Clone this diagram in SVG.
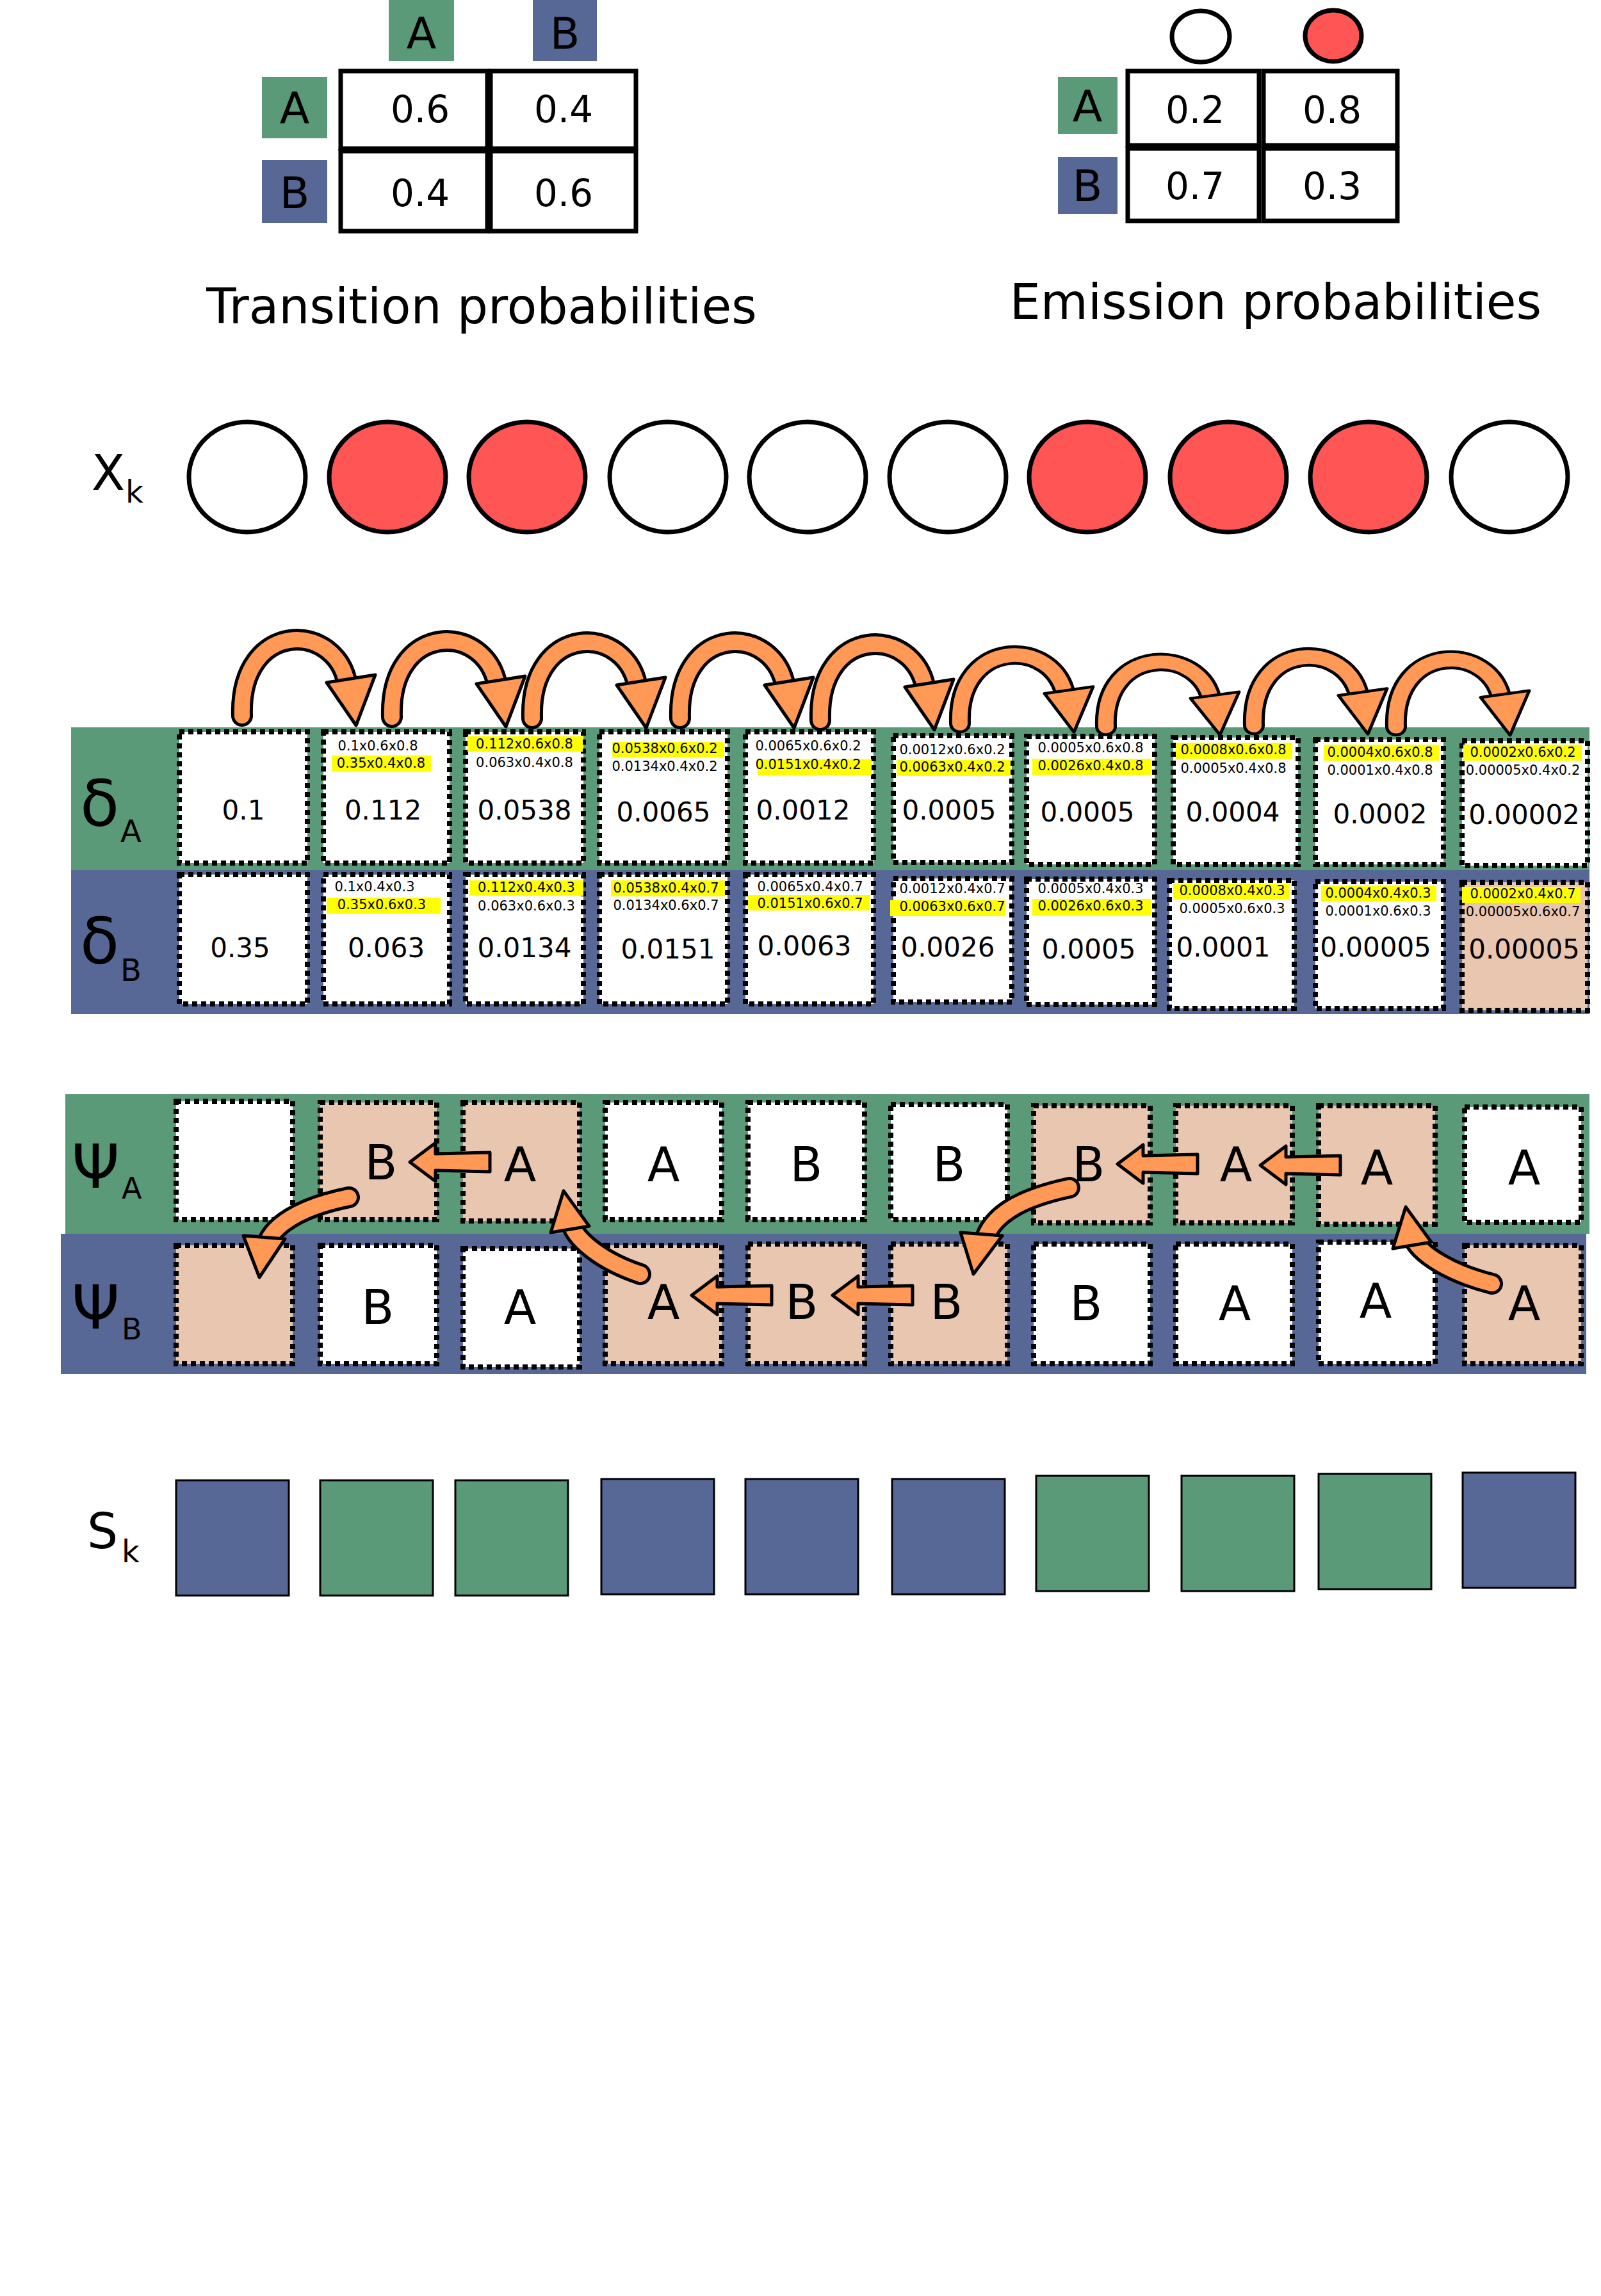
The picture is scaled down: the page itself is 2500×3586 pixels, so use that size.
<svg xmlns="http://www.w3.org/2000/svg" xmlns:xlink="http://www.w3.org/1999/xlink" width="2500" height="3586" viewBox="0 0 2500 3586">
<style>
text{font-family:"DejaVu Sans","Liberation Sans",sans-serif;fill:#000}
.g{fill:#5a9a78}.b{fill:#576796}
.cell{fill:#fff;stroke:#000;stroke-width:7}
.big{font-size:58px;text-anchor:middle}
.hd{font-size:68px;text-anchor:middle}
.ttl{font-size:76px;text-anchor:middle}
.dc{fill:#fff;stroke:#000;stroke-width:8;stroke-dasharray:8 6}
.tan{fill:#e9c6af}
.sm{font-size:21px;text-anchor:middle}
.val{font-size:42px;text-anchor:middle}
.hl{fill:#ffff00}
.ps{font-size:74px;text-anchor:middle}
.arrO{fill:none;stroke:#000;stroke-width:34;stroke-linecap:round}
.arrI{fill:none;stroke:#ff9955;stroke-width:24;stroke-linecap:round}
.head{fill:#ff9955;stroke:#000;stroke-width:5;stroke-linejoin:round}
.sq{stroke:#000;stroke-width:3}
</style>
<defs>
<g id="harc">
<path class="arrO" d="M0,0 C-5,-150 150,-150 165,-45"/>
<path class="arrI" d="M0,0 C-5,-150 150,-150 165,-45"/>
<path class="head" d="M132,-52 L208,-64 L178,15 Z"/>
</g>
<g id="larr">
<path class="head" d="M0,0 L40,-30 L40,-13 L125,-15 L125,15 L40,13 L40,30 Z"/>
</g>
</defs>

<g id="transition">
<rect class="g" x="607" y="0" width="102" height="95"/><text class="hd" x="658" y="76">A</text>
<rect class="b" x="832" y="0" width="100" height="95"/><text class="hd" x="882" y="76">B</text>
<rect class="g" x="409" y="120" width="102" height="96"/><text class="hd" x="460" y="193">A</text>
<rect class="b" x="409" y="250" width="102" height="98"/><text class="hd" x="460" y="325">B</text>
<rect class="cell" x="532" y="111" width="229" height="121"/><text class="big" x="656" y="191">0.6</text>
<rect class="cell" x="766" y="111" width="227" height="121"/><text class="big" x="880" y="191">0.4</text>
<rect class="cell" x="532" y="236" width="229" height="125"/><text class="big" x="656" y="322">0.4</text>
<rect class="cell" x="766" y="236" width="227" height="125"/><text class="big" x="880" y="322">0.6</text>
<text class="ttl" x="752" y="505">Transition probabilities</text>
</g>

<g id="emission">
<ellipse cx="1875" cy="57" rx="45" ry="40" fill="#fff" stroke="#000" stroke-width="7"/>
<ellipse cx="2082" cy="56" rx="44" ry="40" fill="#ff5555" stroke="#000" stroke-width="7"/>
<rect class="g" x="1652" y="120" width="93" height="89"/><text class="hd" x="1698" y="190">A</text>
<rect class="b" x="1652" y="245" width="93" height="89"/><text class="hd" x="1698" y="314">B</text>
<rect class="cell" x="1761" y="111" width="205" height="116"/><text class="big" x="1866" y="192">0.2</text>
<rect class="cell" x="1973" y="111" width="209" height="116"/><text class="big" x="2080" y="192">0.8</text>
<rect class="cell" x="1761" y="232" width="205" height="113"/><text class="big" x="1866" y="311">0.7</text>
<rect class="cell" x="1973" y="232" width="209" height="113"/><text class="big" x="2080" y="311">0.3</text>
<text class="ttl" x="1992" y="498">Emission probabilities</text>
</g>

<g id="observations">
<text x="143" y="765" font-size="76">X</text><text x="196" y="785" font-size="48">k</text>
<g stroke="#000" stroke-width="7">
<ellipse cx="386" cy="745" rx="91" ry="86" fill="#fff"/>
<ellipse cx="605" cy="745" rx="91" ry="86" fill="#ff5555"/>
<ellipse cx="823" cy="745" rx="91" ry="86" fill="#ff5555"/>
<ellipse cx="1043" cy="745" rx="91" ry="86" fill="#fff"/>
<ellipse cx="1261" cy="745" rx="91" ry="86" fill="#fff"/>
<ellipse cx="1480" cy="745" rx="91" ry="86" fill="#fff"/>
<ellipse cx="1698" cy="745" rx="91" ry="86" fill="#ff5555"/>
<ellipse cx="1918" cy="745" rx="91" ry="86" fill="#ff5555"/>
<ellipse cx="2137" cy="745" rx="91" ry="86" fill="#ff5555"/>
<ellipse cx="2357" cy="745" rx="91" ry="86" fill="#fff"/>
</g>
</g>

<g id="delta">
<rect class="g" x="111" y="1136" width="2371" height="223"/>
<rect class="b" x="111" y="1359" width="2371" height="225"/>
<text x="125" y="1290" font-size="100">δ</text><text x="188" y="1315" font-size="48">A</text>
<text x="125" y="1505" font-size="100">δ</text><text x="188" y="1532" font-size="48">B</text>

<rect class="dc" x="280" y="1143" width="200" height="205"/><text class="val" x="380" y="1280">0.1</text>
<rect class="dc" x="280" y="1366" width="200" height="202"/><text class="val" x="375" y="1495">0.35</text>

<rect class="dc" x="505" y="1143" width="197" height="205"/>
<rect class="hl" x="518" y="1180" width="155" height="24"/>
<text class="sm" x="590" y="1172">0.1x0.6x0.8</text><text class="sm" x="595" y="1199">0.35x0.4x0.8</text><text class="val" x="598" y="1280">0.112</text>
<rect class="dc" x="505" y="1366" width="197" height="202"/>
<rect class="hl" x="510" y="1402" width="178" height="25"/>
<text class="sm" x="585" y="1392">0.1x0.4x0.3</text><text class="sm" x="596" y="1420">0.35x0.6x0.3</text><text class="val" x="603" y="1495">0.063</text>

<rect class="dc" x="727" y="1143" width="184" height="205"/>
<rect class="hl" x="730" y="1150" width="180" height="24"/>
<text class="sm" x="819" y="1169">0.112x0.6x0.8</text><text class="sm" x="819" y="1198">0.063x0.4x0.8</text><text class="val" x="819" y="1280">0.0538</text>
<rect class="dc" x="727" y="1366" width="184" height="202"/>
<rect class="hl" x="733" y="1375" width="178" height="24"/>
<text class="sm" x="822" y="1393">0.112x0.4x0.3</text><text class="sm" x="822" y="1422">0.063x0.6x0.3</text><text class="val" x="819" y="1495">0.0134</text>

<rect class="dc" x="936" y="1143" width="200" height="205"/>
<rect class="hl" x="956" y="1159" width="175" height="24"/>
<text class="sm" x="1038" y="1176">0.0538x0.6x0.2</text><text class="sm" x="1038" y="1204">0.0134x0.4x0.2</text><text class="val" x="1036" y="1283">0.0065</text>
<rect class="dc" x="936" y="1366" width="200" height="202"/>
<rect class="hl" x="954" y="1375" width="178" height="25"/>
<text class="sm" x="1040" y="1394">0.0538x0.4x0.7</text><text class="sm" x="1040" y="1421">0.0134x0.6x0.7</text><text class="val" x="1043" y="1497">0.0151</text>

<rect class="dc" x="1164" y="1143" width="200" height="205"/>
<rect class="hl" x="1183" y="1186" width="178" height="25"/>
<text class="sm" x="1262" y="1172">0.0065x0.6x0.2</text><text class="sm" x="1262" y="1201">0.0151x0.4x0.2</text><text class="val" x="1254" y="1280">0.0012</text>
<rect class="dc" x="1164" y="1366" width="200" height="202"/>
<rect class="hl" x="1168" y="1398" width="190" height="24"/>
<text class="sm" x="1265" y="1392">0.0065x0.4x0.7</text><text class="sm" x="1265" y="1418">0.0151x0.6x0.7</text><text class="val" x="1256" y="1492">0.0063</text>

<rect class="dc" x="1395" y="1149" width="185" height="198"/>
<rect class="hl" x="1400" y="1187" width="178" height="25"/>
<text class="sm" x="1487" y="1178">0.0012x0.6x0.2</text><text class="sm" x="1487" y="1205">0.0063x0.4x0.2</text><text class="val" x="1482" y="1280">0.0005</text>
<rect class="dc" x="1395" y="1372" width="185" height="193"/>
<rect class="hl" x="1390" y="1406" width="180" height="25"/>
<text class="sm" x="1487" y="1395">0.0012x0.4x0.7</text><text class="sm" x="1487" y="1423">0.0063x0.6x0.7</text><text class="val" x="1480" y="1494">0.0026</text>

<rect class="dc" x="1603" y="1150" width="200" height="200"/>
<rect class="hl" x="1612" y="1185" width="185" height="25"/>
<text class="sm" x="1703" y="1175">0.0005x0.6x0.8</text><text class="sm" x="1703" y="1203">0.0026x0.4x0.8</text><text class="val" x="1698" y="1283">0.0005</text>
<rect class="dc" x="1603" y="1373" width="200" height="196"/>
<rect class="hl" x="1612" y="1404" width="185" height="25"/>
<text class="sm" x="1703" y="1395">0.0005x0.4x0.3</text><text class="sm" x="1703" y="1422">0.0026x0.6x0.3</text><text class="val" x="1700" y="1497">0.0005</text>

<rect class="dc" x="1832" y="1152" width="195" height="198"/>
<rect class="hl" x="1836" y="1160" width="182" height="25"/>
<text class="sm" x="1926" y="1178">0.0008x0.6x0.8</text><text class="sm" x="1926" y="1207">0.0005x0.4x0.8</text><text class="val" x="1925" y="1283">0.0004</text>
<rect class="dc" x="1826" y="1375" width="195" height="200"/>
<rect class="hl" x="1832" y="1380" width="182" height="25"/>
<text class="sm" x="1924" y="1398">0.0008x0.4x0.3</text><text class="sm" x="1924" y="1426">0.0005x0.6x0.3</text><text class="val" x="1910" y="1494">0.0001</text>

<rect class="dc" x="2054" y="1155" width="200" height="195"/>
<rect class="hl" x="2067" y="1163" width="180" height="25"/>
<text class="sm" x="2155" y="1182">0.0004x0.6x0.8</text><text class="sm" x="2155" y="1210">0.0001x0.4x0.8</text><text class="val" x="2155" y="1286">0.0002</text>
<rect class="dc" x="2054" y="1377" width="200" height="198"/>
<rect class="hl" x="2063" y="1383" width="180" height="25"/>
<text class="sm" x="2152" y="1402">0.0004x0.4x0.3</text><text class="sm" x="2152" y="1430">0.0001x0.6x0.3</text><text class="val" x="2148" y="1494">0.00005</text>

<rect class="dc" x="2283" y="1157" width="196" height="195"/>
<rect class="hl" x="2285" y="1163" width="185" height="25"/>
<text class="sm" x="2378" y="1182">0.0002x0.6x0.2</text><text class="sm" x="2378" y="1210">0.00005x0.4x0.2</text><text class="val" x="2380" y="1287">0.00002</text>
<rect class="dc tan" x="2283" y="1378" width="196" height="200"/>
<rect class="hl" x="2283" y="1385" width="185" height="25"/>
<text class="sm" x="2378" y="1403">0.0002x0.4x0.7</text><text class="sm" x="2378" y="1431">0.00005x0.6x0.7</text><text class="val" x="2380" y="1497">0.00005</text>
</g>

<g id="delta-arrows">
<use xlink:href="#harc" transform="translate(378,1118)"/>
<use xlink:href="#harc" transform="translate(612,1120)"/>
<use xlink:href="#harc" transform="translate(831,1122)"/>
<use xlink:href="#harc" transform="translate(1062,1122)"/>
<use xlink:href="#harc" transform="translate(1281,1125)"/>
<use xlink:href="#harc" transform="translate(1499,1130) scale(1,0.9)"/>
<use xlink:href="#harc" transform="translate(1727,1135) scale(1,0.85)"/>
<use xlink:href="#harc" transform="translate(1958,1133) scale(1,0.9)"/>
<use xlink:href="#harc" transform="translate(2180,1135) scale(1,0.88)"/>
</g>

<g id="psi">
<rect class="g" x="102" y="1709" width="2380" height="218"/>
<rect class="b" x="95" y="1927" width="2382" height="219"/>
<text x="112" y="1855" font-size="95">Ψ</text><text x="190" y="1872" font-size="46">A</text>
<text x="112" y="2075" font-size="95">Ψ</text><text x="190" y="2092" font-size="46">B</text>

<rect class="dc" x="275" y="1720" width="182" height="185"/>
<rect class="dc tan" x="500" y="1722" width="182" height="183"/><text class="ps" x="595" y="1842">B</text>
<rect class="dc tan" x="723" y="1722" width="182" height="185"/><text class="ps" x="812" y="1845">A</text>
<rect class="dc" x="945" y="1722" width="182" height="183"/><text class="ps" x="1036" y="1845">A</text>
<rect class="dc" x="1168" y="1722" width="182" height="183"/><text class="ps" x="1259" y="1845">B</text>
<rect class="dc" x="1391" y="1725" width="182" height="180"/><text class="ps" x="1482" y="1845">B</text>
<rect class="dc tan" x="1614" y="1727" width="182" height="183"/><text class="ps" x="1700" y="1845">B</text>
<rect class="dc tan" x="1836" y="1727" width="182" height="183"/><text class="ps" x="1930" y="1845">A</text>
<rect class="dc tan" x="2059" y="1727" width="182" height="185"/><text class="ps" x="2150" y="1850">A</text>
<rect class="dc" x="2287" y="1729" width="182" height="180"/><text class="ps" x="2380" y="1850">A</text>

<rect class="dc tan" x="275" y="1945" width="182" height="185"/>
<rect class="dc" x="500" y="1945" width="182" height="185"/><text class="ps" x="590" y="2068">B</text>
<rect class="dc" x="723" y="1950" width="182" height="185"/><text class="ps" x="812" y="2068">A</text>
<rect class="dc tan" x="945" y="1945" width="182" height="185"/><text class="ps" x="1036" y="2060">A</text>
<rect class="dc tan" x="1168" y="1943" width="182" height="187"/><text class="ps" x="1252" y="2060">B</text>
<rect class="dc tan" x="1391" y="1943" width="182" height="187"/><text class="ps" x="1478" y="2060">B</text>
<rect class="dc" x="1614" y="1943" width="182" height="187"/><text class="ps" x="1696" y="2062">B</text>
<rect class="dc" x="1836" y="1943" width="182" height="187"/><text class="ps" x="1928" y="2062">A</text>
<rect class="dc" x="2059" y="1940" width="182" height="190"/><text class="ps" x="2148" y="2058">A</text>
<rect class="dc tan" x="2287" y="1945" width="182" height="185"/><text class="ps" x="2380" y="2062">A</text>
</g>

<g id="psi-arrows">
<use xlink:href="#larr" transform="translate(640,1815)"/>
<use xlink:href="#larr" transform="translate(1745,1818)"/>
<use xlink:href="#larr" transform="translate(1968,1820)"/>
<use xlink:href="#larr" transform="translate(1080,2023)"/>
<use xlink:href="#larr" transform="translate(1300,2023)"/>
<path class="arrO" d="M545,1870 C470,1885 420,1915 415,1950"/>
<path class="arrI" d="M545,1870 C470,1885 420,1915 415,1950"/>
<path class="head" d="M380,1930 L445,1935 L405,1995 Z"/>
<path class="arrO" d="M1000,1990 C940,1970 895,1935 890,1905"/>
<path class="arrI" d="M1000,1990 C940,1970 895,1935 890,1905"/>
<path class="head" d="M860,1925 L920,1915 L880,1860 Z"/>
<path class="arrO" d="M1670,1855 C1600,1870 1545,1895 1535,1945"/>
<path class="arrI" d="M1670,1855 C1600,1870 1545,1895 1535,1945"/>
<path class="head" d="M1500,1925 L1565,1930 L1520,1990 Z"/>
<path class="arrO" d="M2330,2005 C2270,1990 2215,1960 2205,1930"/>
<path class="arrI" d="M2330,2005 C2270,1990 2215,1960 2205,1930"/>
<path class="head" d="M2175,1950 L2235,1940 L2195,1885 Z"/>
</g>

<g id="states">
<text x="136" y="2418" font-size="76">S</text><text x="190" y="2440" font-size="48">k</text>
<rect class="sq b" x="275" y="2312" width="176" height="180"/>
<rect class="sq g" x="500" y="2312" width="176" height="180"/>
<rect class="sq g" x="711" y="2312" width="176" height="180"/>
<rect class="sq b" x="939" y="2310" width="176" height="180"/>
<rect class="sq b" x="1164" y="2310" width="176" height="180"/>
<rect class="sq b" x="1393" y="2310" width="176" height="180"/>
<rect class="sq g" x="1618" y="2305" width="176" height="180"/>
<rect class="sq g" x="1845" y="2305" width="176" height="180"/>
<rect class="sq g" x="2059" y="2302" width="176" height="180"/>
<rect class="sq b" x="2284" y="2300" width="176" height="180"/>
</g>
</svg>
